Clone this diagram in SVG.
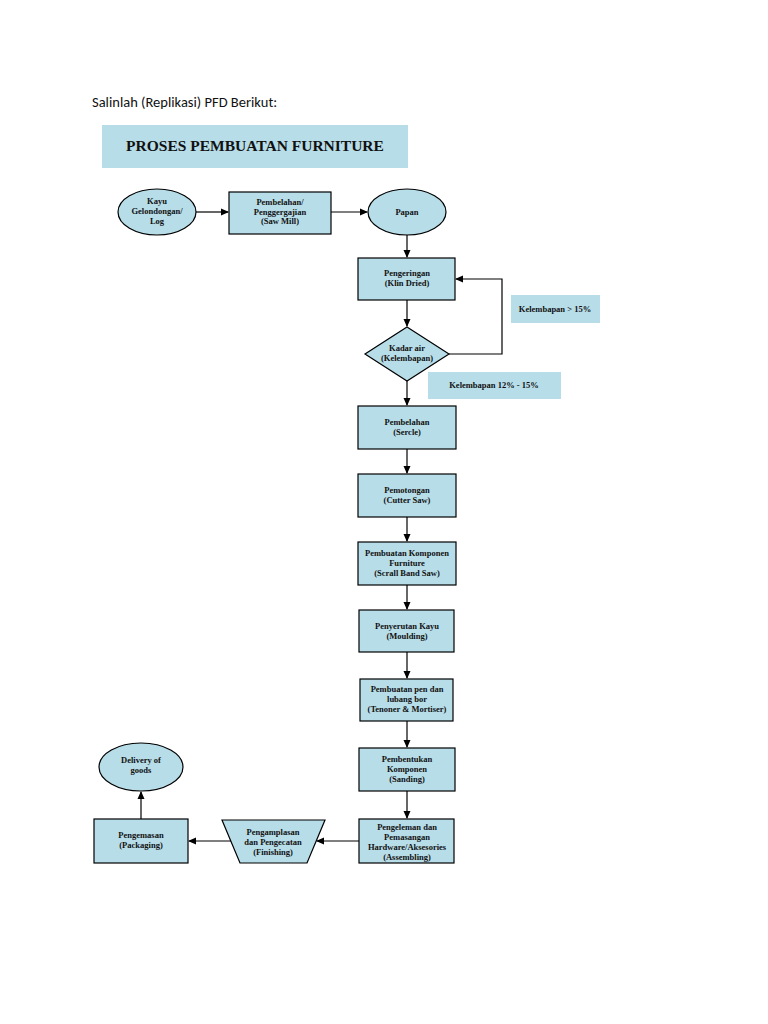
<svg xmlns="http://www.w3.org/2000/svg" width="768" height="1024" viewBox="0 0 768 1024">
<style>
.s{fill:#b7dde8;stroke:#000;stroke-width:1.2}
.l{fill:#b7dde8}
.t{font-family:"Liberation Serif",serif;font-weight:bold;font-size:8.5px;fill:#111;text-anchor:middle}
.c{stroke:#000;stroke-width:1.2;fill:none;marker-end:url(#a)}
</style>
<defs><marker id="a" markerWidth="8" markerHeight="8" refX="7" refY="4" orient="auto" markerUnits="userSpaceOnUse"><path d="M0,0.5L8,4L0,7.5z" fill="#000"/></marker></defs>
<rect width="768" height="1024" fill="#fff"/>
<text x="92" y="107" font-family="Carlito,'Liberation Sans',sans-serif" font-size="14.5" fill="#111">Salinlah (Replikasi) PFD Berikut:</text>
<g id="title"><rect x="102" y="125" width="306" height="43" class="l"/><text x="255" y="151" class="t" style="font-size:15.5px">PROSES PEMBUATAN FURNITURE</text></g>
<g id="kayu"><ellipse cx="157" cy="212" rx="39" ry="23" class="s"/><text class="t" x="157" y="204">Kayu</text><text class="t" x="157" y="214">Gelondongan/</text><text class="t" x="157" y="224">Log</text></g>
<g id="sawmill"><rect x="229" y="192" width="102" height="42" class="s"/><text class="t" x="280" y="205">Pembelahan/</text><text class="t" x="280" y="215">Penggergajian</text><text class="t" x="280" y="224">(Saw Mill)</text></g>
<g id="papan"><ellipse cx="407" cy="212" rx="39" ry="23" class="s"/><text class="t" x="407" y="215">Papan</text></g>
<g id="kering"><rect x="358" y="258" width="97" height="42" class="s"/><text class="t" x="407" y="276">Pengeringan</text><text class="t" x="407" y="286">(Klin Dried)</text></g>
<g id="lbl1"><rect x="511" y="295" width="89" height="28" class="l"/><text class="t" x="555" y="312">Kelembapan &gt; 15%</text></g>
<g id="kadar"><polygon points="407,327 449,354 407,381 365,354" class="s"/><text class="t" x="407" y="351">Kadar air</text><text class="t" x="407" y="361">(Kelembapan)</text></g>
<g id="lbl2"><rect x="428" y="372" width="133" height="27" class="l"/><text class="t" x="494" y="388">Kelembapan 12% - 15%</text></g>
<g id="sercle"><rect x="358" y="406" width="98" height="43" class="s"/><text class="t" x="407" y="425">Pembelahan</text><text class="t" x="407" y="435">(Sercle)</text></g>
<g id="potong"><rect x="358" y="474" width="98" height="43" class="s"/><text class="t" x="407" y="493">Pemotongan</text><text class="t" x="407" y="503">(Cutter Saw)</text></g>
<g id="komponen"><rect x="358" y="542" width="98" height="43" class="s"/><text class="t" x="407" y="556">Pembuatan Komponen</text><text class="t" x="407" y="566">Furniture</text><text class="t" x="407" y="576">(Scrall Band Saw)</text></g>
<g id="serut"><rect x="359" y="610" width="95" height="42" class="s"/><text class="t" x="407" y="629">Penyerutan Kayu</text><text class="t" x="407" y="639">(Moulding)</text></g>
<g id="pen"><rect x="360" y="679" width="93" height="42" class="s"/><text class="t" x="407" y="692">Pembuatan pen dan</text><text class="t" x="407" y="702">lubang bor</text><text class="t" x="407" y="712">(Tenoner &amp; Mortiser)</text></g>
<g id="bentuk"><rect x="359" y="748" width="96" height="43" class="s"/><text class="t" x="407" y="762">Pembentukan</text><text class="t" x="407" y="772">Komponen</text><text class="t" x="407" y="782">(Sanding)</text></g>
<g id="lem"><rect x="359" y="819" width="95" height="44" class="s"/><text class="t" x="407" y="830">Pengeleman dan</text><text class="t" x="407" y="840">Pemasangan</text><text class="t" x="407" y="850">Hardware/Aksesories</text><text class="t" x="407" y="860">(Assembling)</text></g>
<g id="finishing"><polygon points="222,820 325,820 307,863 240,863" class="s"/><text class="t" x="273" y="835">Pengamplasan</text><text class="t" x="273" y="845">dan Pengecatan</text><text class="t" x="273" y="855">(Finishing)</text></g>
<g id="packing"><rect x="94" y="819" width="94" height="44" class="s"/><text class="t" x="141" y="838">Pengemasan</text><text class="t" x="141" y="848">(Packaging)</text></g>
<g id="delivery"><ellipse cx="141" cy="767" rx="42" ry="24" class="s"/><text class="t" x="141" y="763">Delivery of</text><text class="t" x="141" y="773">goods</text></g>
<g id="connectors">
<path class="c" d="M196,212H228"/>
<path class="c" d="M331,212H367"/>
<path class="c" d="M407,235V257"/>
<path class="c" d="M407,300V326"/>
<path class="c" d="M449,354H502V279H456"/>
<path class="c" d="M407,381V405"/>
<path class="c" d="M407,449V473"/>
<path class="c" d="M407,517V541"/>
<path class="c" d="M407,585V609"/>
<path class="c" d="M407,652V678"/>
<path class="c" d="M407,721V747"/>
<path class="c" d="M407,791V818"/>
<path class="c" d="M359,841H317"/>
<path class="c" d="M231,841H189"/>
<path class="c" d="M141,819V792"/>
</g>
</svg>
